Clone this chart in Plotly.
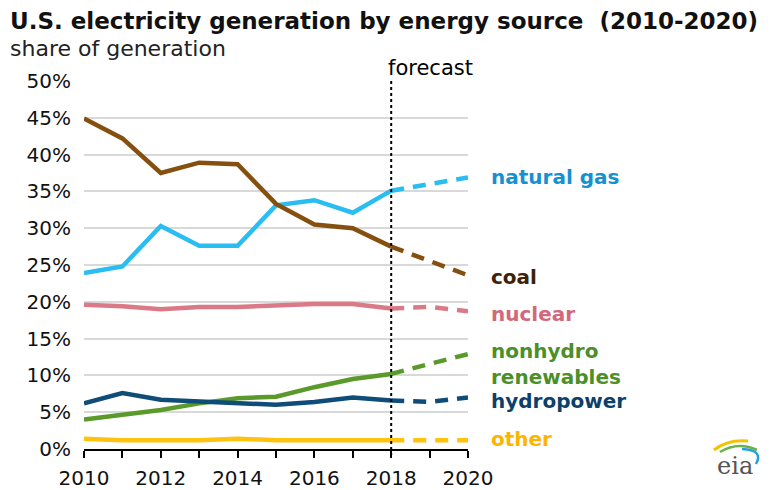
import plotly.graph_objects as go

years = [2010, 2011, 2012, 2013, 2014, 2015, 2016, 2017, 2018, 2019, 2020]
last_hist = 2018

coal = [44.9, 42.2, 37.5, 38.9, 38.7, 33.3, 30.5, 30.0, 27.5, 25.6, 23.6]
natural_gas = [23.9, 24.8, 30.3, 27.6, 27.6, 33.1, 33.8, 32.1, 35.1, 36.0, 36.9]
nuclear = [19.6, 19.4, 19.0, 19.3, 19.3, 19.5, 19.7, 19.7, 19.1, 19.3, 18.7]
nonhydro_renewables = [4.0, 4.7, 5.3, 6.2, 6.9, 7.1, 8.4, 9.5, 10.2, 11.5, 12.9]
hydropower = [6.2, 7.6, 6.7, 6.5, 6.2, 6.0, 6.4, 7.0, 6.6, 6.4, 7.0]
other = [1.4, 1.2, 1.2, 1.2, 1.4, 1.2, 1.2, 1.2, 1.2, 1.2, 1.2]

y_tickvals = [0, 5, 10, 15, 20, 25, 30, 35, 40, 45, 50]
y_ticklabels = ["0%", "5%", "10%", "15%", "20%", "25%", "30%", "35%", "40%", "45%", "50%"]
x_tickvals = [2010, 2012, 2014, 2016, 2018, 2020]
x_ticklabels = ["2010", "2012", "2014", "2016", "2018", "2020"]

series = [
    ("natural gas", natural_gas, "#29bdf2", "#1590d0", 37.0),
    ("coal", coal, "#85500f", "#3d2208", 23.4),
    ("nuclear", nuclear, "#da7a87", "#d2687a", 18.3),
    ("nonhydro<br>renewables", nonhydro_renewables, "#5a9a2a", "#4b8f28", 11.6),
    ("hydropower", hydropower, "#0f4c78", "#0c3f6a", 6.5),
    ("other", other, "#ffc20e", "#ffb400", 1.4),
]

# plot area in page pixels (page has an 8px body margin)
PL, PT, PW, PH = 84, 81, 384, 368


def px(xp):
    return (xp - PL) / PW


def py(yp):
    return (PT + PH - yp) / PH


fig = go.Figure()
split = years.index(last_hist)
for name, vals, col, lcol, ly in series:
    fig.add_trace(go.Scatter(x=years[:split + 1], y=vals[:split + 1], mode="lines",
                             line=dict(color=col, width=4.5), showlegend=False,
                             hoverinfo="skip"))
    fig.add_trace(go.Scatter(x=years[split:], y=vals[split:], mode="lines",
                             line=dict(color=col, width=4.5, dash="13px,9px"),
                             showlegend=False, hoverinfo="skip"))
    fig.add_annotation(text="<b>" + name + "</b>", x=px(489), xref="paper", y=ly, yref="y",
                       xanchor="left", yanchor="middle", showarrow=False, align="left",
                       font=dict(family="DejaVu Sans", size=20, color=lcol))

# forecast divider
fig.add_shape(type="line", x0=last_hist, x1=last_hist, xref="x", y0=1.0, y1=py(455),
              yref="paper", line=dict(color="black", width=2, dash="dot"), layer="above")
fig.add_annotation(text="forecast", x=px(386), xref="paper", y=py(68), yref="paper",
                   xanchor="left", yanchor="middle", showarrow=False,
                   font=dict(family="DejaVu Sans", size=21, color="black"))

# titles
fig.add_annotation(text="<b>U.S. electricity generation by energy source  (2010-2020)</b>",
                   x=px(8), xanchor="left", y=py(21), yanchor="middle",
                   xref="paper", yref="paper", showarrow=False,
                   font=dict(family="DejaVu Sans", size=23, color="#111111"))
fig.add_annotation(text="share of generation", x=px(8), xanchor="left",
                   y=py(48), yanchor="middle", xref="paper", yref="paper",
                   showarrow=False,
                   font=dict(family="DejaVu Sans", size=22, color="#222222"))

# eia logo
fig.add_annotation(text="eia", x=px(735), y=py(466), xref="paper", yref="paper",
                   showarrow=False, xanchor="center", yanchor="middle",
                   font=dict(family="DejaVu Serif", size=24, color="#555555"))
fig.add_shape(type="path", xref="paper", yref="paper",
              path="M %f %f Q %f %f %f %f" % (px(714), py(450), px(728), py(439), px(748), py(441)),
              line=dict(color="#f2c400", width=3))
fig.add_shape(type="path", xref="paper", yref="paper",
              path="M %f %f Q %f %f %f %f" % (px(720), py(452), px(738), py(441), px(757), py(450)),
              line=dict(color="#6ab04c", width=2.5))
fig.add_shape(type="path", xref="paper", yref="paper",
              path="M %f %f Q %f %f %f %f" % (px(742), py(449), px(764), py(450), px(756), py(464)),
              line=dict(color="#2aa0d8", width=2.5))

fig.update_layout(
    width=772, height=482,
    margin=dict(l=PL - 8, r=772 - (PL - 8) - PW, t=PT - 8, b=482 - (PT - 8) - PH),
    paper_bgcolor="white", plot_bgcolor="white",
    xaxis=dict(range=[2010, 2020], tickvals=x_tickvals, ticktext=x_ticklabels,
               ticks="outside", ticklen=7, tickwidth=2, tickcolor="black",
               minor=dict(dtick=1, ticks="outside", ticklen=7, tickwidth=2, tickcolor="black", showgrid=False),
               showgrid=False, zeroline=False, showline=True, linecolor="black", linewidth=2,
               automargin=False, ticklabelstandoff=3,
               tickfont=dict(family="DejaVu Sans", size=20, color="#111111")),
    yaxis=dict(range=[0, 50], tickvals=y_tickvals, ticktext=y_ticklabels,
               showgrid=True, gridcolor="#d9d9d9", gridwidth=1.5, zeroline=False,
               showline=False, ticks="", ticklabelstandoff=12, automargin=False,
               tickfont=dict(family="DejaVu Sans", size=20, color="#111111")),
)

fig.write_html("out.html")
